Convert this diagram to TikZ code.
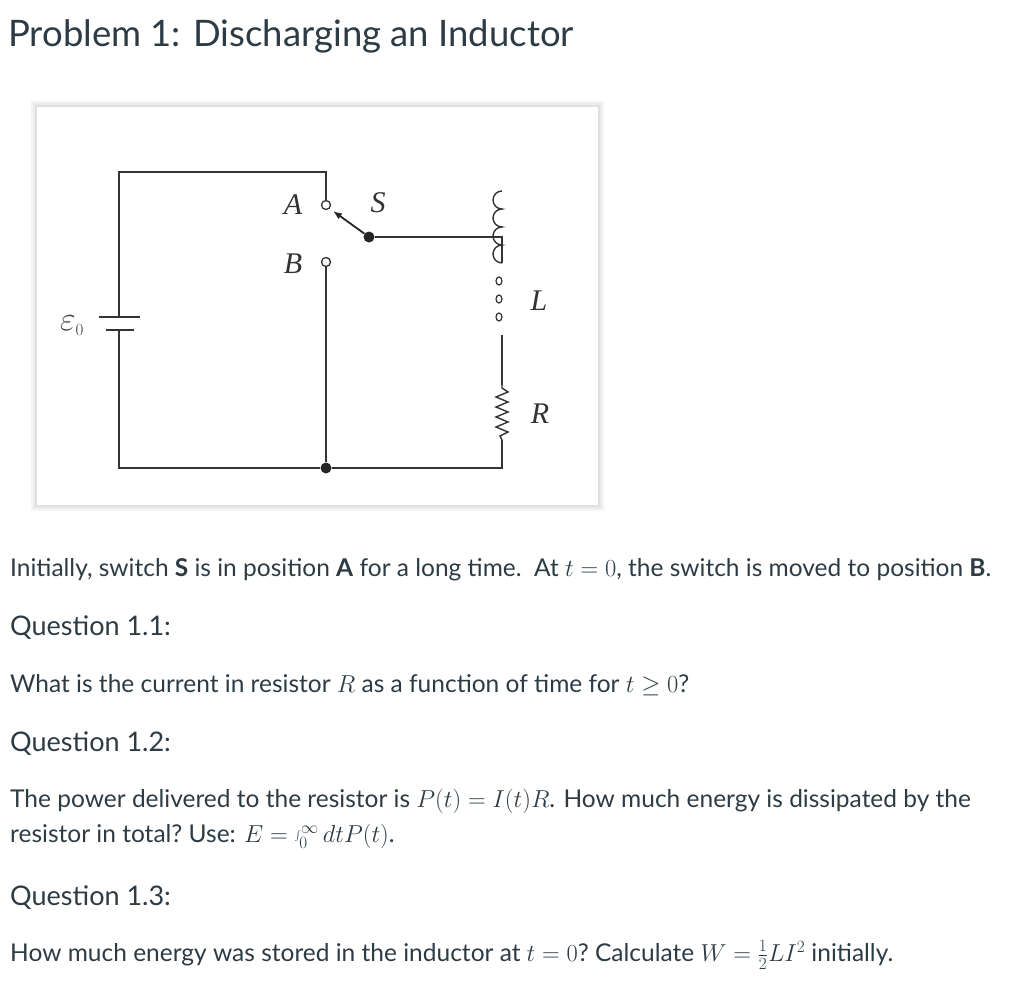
\RequirePackage{fix-cm}
\documentclass[tikz,border=0pt]{standalone}
\usepackage{fontspec}
\setmainfont{Lato}
\newfontfamily\circfont{Liberation Serif}
\usetikzlibrary{arrows.meta}
\definecolor{ink}{HTML}{2D3B45}
\tikzset{
  wire/.style={line width=1.6pt, black!80},
  txt/.style={anchor=base west, inner sep=0pt, font=\fontsize{24.5}{29}\selectfont, text=ink},
  qtxt/.style={anchor=base west, inner sep=0pt, font=\fontsize{27}{32}\selectfont, text=ink},
  clab/.style={inner sep=0pt, font=\circfont\itshape\fontsize{30}{30}\selectfont, text=black!80},
  opencirc/.style={circle, draw=black!80, line width=1.3pt, fill=white, minimum size=9pt, inner sep=0pt},
  dotc/.style={circle, fill=black!85, minimum size=11pt, inner sep=0pt}
}
\begin{document}
\begin{tikzpicture}[x=1pt,y=-1pt]
\useasboundingbox (0,0) rectangle (1024,990);
% frame with soft shadow
\foreach \i/\c in {6/4,4/8,2/12}{
  \fill[black!\c] (37-\i,107-\i) rectangle (598+\i,505+\i);
}
\fill[white] (37,107) rectangle (598,505);
% title
\node[anchor=base west, inner sep=0pt, font=\fontsize{36.5}{44}\selectfont, text=ink] (title) at (8,46) {Problem 1: Discharging an Inductor};
% circuit coordinates
\coordinate (tl) at (119,172);
\coordinate (tA) at (326,172);
\coordinate (bl) at (119,468);
\coordinate (br) at (502,468);
\coordinate (tr) at (502,237);
\node[opencirc] (A) at (326,205) {};
\node[opencirc] (B) at (326,262) {};
\node[dotc] (P) at (369,237) {};
\node[dotc] (J) at (326,468) {};
\coordinate (batT) at (119,317);
\coordinate (batB) at (119,330);
\coordinate (indT) at (502,263);
\coordinate (indB) at (502,335);
\coordinate (resT) at (502,385);
\coordinate (resB) at (502,440);
% wires
\draw[wire] (batT) -- (tl) -- (tA) -- (A.north);
\draw[wire] (batB) -- (bl) -- (J) -- (br) -- (resB);
\draw[wire] (resT) -- (indB);
\draw[wire] (indT) -- (tr) -- (P);
\draw[wire] (B.south) -- (J);
% battery plates
\draw[line width=2pt, black!80] (99,317) -- (140,317);
\draw[line width=2pt, black!80] (106,330) -- (134,330);
% switch blade
\draw[line width=1.8pt, black!85, -{Latex[length=9pt,width=7pt]}] (P) -- (333,211);
% inductor coils
\draw[line width=1.4pt, black!80] (indT)
  arc[start angle=90, end angle=270, radius=9]
  arc[start angle=90, end angle=270, radius=9]
  arc[start angle=90, end angle=270, radius=9]
  arc[start angle=90, end angle=270, radius=9];
\foreach \yy in {281,299,317}{
  \draw[line width=1.2pt, black!80] (499,\yy) ellipse [x radius=3, y radius=4];
}
% resistor
\draw[line width=1.4pt, black!80] (resT) -- (502,388) -- (508,392) -- (496,397) -- (508,402) -- (496,407) -- (508,412) -- (496,417) -- (508,422) -- (496,427) -- (508,432) -- (500,436) -- (resB);
% circuit labels
\node[clab] (lA) at (293,205) {A};
\node[clab] (lB) at (293,264) {B};
\node[clab] (lS) at (378,203) {S};
\node[clab] (lL) at (539,301) {L};
\node[clab] (lR) at (540,414) {R};
\node[inner sep=0pt, text=black!75, font=\fontsize{34}{34}\selectfont] (eps) at (72,326) {$\varepsilon_{\scriptscriptstyle 0}$};
% text
\node[txt] (t1) at (10,576) {Initially, switch \textbf{S} is in position \textbf{A} for a long time.\ \ At $t=0$, the switch is moved to position \textbf{B}.};
\node[qtxt] (q1) at (10,635) {Question 1.1:};
\node[txt] (t2) at (10,692) {What is the current in resistor $R$ as a function of time for $t\geq 0$?};
\node[qtxt] (q2) at (10,751) {Question 1.2:};
\node[txt] (t3) at (10,807) {The power delivered to the resistor is $P(t)=I(t)R$. How much energy is dissipated by the};
\node[txt] (t4) at (10,842) {resistor in total?\ Use: $E=\int_0^\infty dt P(t)$.};
\node[qtxt] (q3) at (10,905) {Question 1.3:};
\node[txt] (t5) at (10,961) {How much energy was stored in the inductor at $t=0$?\ Calculate $W=\frac{1}{2}LI^2$ initially.};
\end{tikzpicture}
\end{document}
